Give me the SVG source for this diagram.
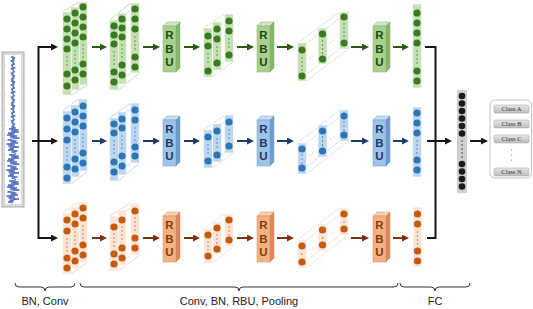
<svg xmlns="http://www.w3.org/2000/svg" width="533" height="309" viewBox="0 0 533 309">
<defs>
<style>
.sg{fill:#c5e0b4;stroke:#fff;stroke-width:.6}
.sb{fill:#bdd7ee;stroke:#fff;stroke-width:.6}
.so{fill:#fce4d6;stroke:#fff;stroke-width:.6}
.cg{fill:#3a7a20}.cb{fill:#2e75b6}.co{fill:#c55a11}.ck{fill:#1a1a1a}
.og{stroke:#9fc48a;stroke-width:.6;fill:none}
.ob{stroke:#93b8dd;stroke-width:.6;fill:none}
.oo{stroke:#edb999;stroke-width:.6;fill:none}
.da{stroke-dasharray:2 1.2}
.ag{stroke:#2e5a17;stroke-width:2;marker-end:url(#mg)}
.ab{stroke:#1f3e66;stroke-width:2;marker-end:url(#mb)}
.ao{stroke:#7a3310;stroke-width:2;marker-end:url(#mo)}
.ak{stroke:#151515;stroke-width:2;marker-end:url(#mk)}
.tk{stroke:#151515;stroke-width:2;fill:none}
.rg .f{fill:#a9d18e;stroke:#86b26b;stroke-width:.5}.rg .t{fill:#d2e8c2;stroke:#86b26b;stroke-width:.5}.rg .s{fill:#86b66a;stroke:#86b26b;stroke-width:.5}.rg text{fill:#1d4a12}
.rb .f{fill:#9dc3e6;stroke:#6f9ccc;stroke-width:.5}.rb .t{fill:#c8def3;stroke:#6f9ccc;stroke-width:.5}.rb .s{fill:#6f9ccc;stroke:#6f9ccc;stroke-width:.5}.rb text{fill:#1f3864}
.ro .f{fill:#f4b183;stroke:#d88a5c;stroke-width:.5}.ro .t{fill:#f9d3b8;stroke:#d88a5c;stroke-width:.5}.ro .s{fill:#d98b5d;stroke:#d88a5c;stroke-width:.5}.ro text{fill:#843c0c}
.rl{font-family:"Liberation Sans",Arial,sans-serif;font-weight:bold;font-size:11.5px;text-anchor:middle}
.lb{font-family:"Liberation Sans",Arial,sans-serif;font-size:11px;fill:#222;text-anchor:middle}
.cl{font-family:"Liberation Serif","Times New Roman",serif;font-size:6.5px;fill:#333;text-anchor:middle}
.btn{fill:url(#gb);stroke:#a0a0a0;stroke-width:.5}
.br{fill:none;stroke:#333;stroke-width:1}
</style>
<linearGradient id="gb" x1="0" y1="0" x2="0" y2="1"><stop offset="0" stop-color="#e6e6e6"/><stop offset="1" stop-color="#bdbdbd"/></linearGradient>
<marker id="mg" viewBox="0 0 7 7" refX="5" refY="3.5" markerWidth="7" markerHeight="7" markerUnits="userSpaceOnUse" orient="auto"><path d="M0,0 L7,3.5 L0,7 z" fill="#2e5a17"/></marker>
<marker id="mb" viewBox="0 0 7 7" refX="5" refY="3.5" markerWidth="7" markerHeight="7" markerUnits="userSpaceOnUse" orient="auto"><path d="M0,0 L7,3.5 L0,7 z" fill="#1f3e66"/></marker>
<marker id="mo" viewBox="0 0 7 7" refX="5" refY="3.5" markerWidth="7" markerHeight="7" markerUnits="userSpaceOnUse" orient="auto"><path d="M0,0 L7,3.5 L0,7 z" fill="#7a3310"/></marker>
<marker id="mk" viewBox="0 0 7 7" refX="5" refY="3.5" markerWidth="7" markerHeight="7" markerUnits="userSpaceOnUse" orient="auto"><path d="M0,0 L7,3.5 L0,7 z" fill="#151515"/></marker>
</defs>
<rect width="533" height="309" fill="#fff"/>

<g id="input">
<rect x="2" y="52" width="22" height="155" fill="#dcdcdc" stroke="#9a9a9a" stroke-width=".8"/>
<rect x="4.5" y="54.5" width="17" height="150" fill="#fff" stroke="#bbb" stroke-width=".4"/>
<path d="M4.5,65h1.5M4.5,80h1.5M4.5,95h1.5M4.5,110h1.5M4.5,125h1.5M4.5,140h1.5M4.5,155h1.5M4.5,170h1.5M4.5,185h1.5M4.5,200h1.5" stroke="#999" stroke-width=".4"/>
<polyline fill="none" stroke="#2448b0" stroke-width=".8" stroke-linejoin="round" points="13.8,56 11.1,57 15.2,58 12,59 14.6,60 10.6,61 14.2,62 12.4,63 15,64 11,65 13.3,66 11.6,67 15.4,68 10.8,69 14,70 12.6,71 14.8,72 10.7,73 13.6,74 11.5,75 15.1,76 12.2,77 14.4,78 11.2,79 13.8,80 11.1,81 15.2,82 12,83 14.6,84 10.6,85 14.2,86 12.4,87 15,88 11,89 13.3,90 11.6,91 15.4,92 10.8,93 14,94 12.6,95 14.8,96 10.7,97 13.6,98 11.5,99 15.1,100 12.2,101 14.4,102 11.2,103 13.8,104 11.1,105 15.2,106 12,107 14.6,108 10.6,109 14.2,110 12.4,111 15,112 11,113 13.3,114 11.6,115 15.4,116 10.8,117 14,118 12.6,119 14.8,120 10.7,121 13.6,122 11.5,123 15.1,124 12.2,125 14.4,126 11.2,127 16,128 9,129 18.5,130 11,131 19,132 8,133 14.5,134 7,135 17,136 10,137 19.5,138 12,139 7.5,140 16.5,141 10.5,142 18,143 6.5,144 15,145 8.5,146 19,147 9.5,148 14,149 8,150 17.5,151 11.5,152 15.5,153 16,154 9,155 18.5,156 11,157 19,158 8,159 14.5,160 7,161 17,162 10,163 19.5,164 12,165 7.5,166 16.5,167 10.5,168 18,169 6.5,170 15,171 8.5,172 19,173 9.5,174 14,175 8,176 17.5,177 11.5,178 15.5,179 16,180 9,181 18.5,182 11,183 19,184 8,185 14.5,186 7,187 17,188 10,189 19.5,190 12,191 7.5,192 16.5,193 10.5,194 18,195 6.5,196 15,197 8.5,198 19,199 9.5,200 14,201 8,202 13,203"/>
</g>

<g id="connectors">
<line class="tk" x1="38.5" y1="46" x2="38.5" y2="239"/>
<line class="ak" x1="38.5" y1="47" x2="56" y2="47"/>
<line class="ak" x1="32" y1="141" x2="56" y2="141"/>
<line class="ak" x1="38.5" y1="238" x2="56" y2="238"/>
<line class="ag" x1="92" y1="47" x2="105" y2="47"/>
<line class="ag" x1="143" y1="47" x2="158" y2="47"/>
<line class="ag" x1="184" y1="47" x2="198" y2="47"/>
<line class="ag" x1="237" y1="47" x2="252" y2="47"/>
<line class="ag" x1="277" y1="47" x2="292" y2="47"/>
<line class="ag" x1="351" y1="47" x2="367" y2="47"/>
<line class="ag" x1="393" y1="47" x2="407" y2="47"/>
<line class="ab" x1="92" y1="141" x2="105" y2="141"/>
<line class="ab" x1="143" y1="141" x2="158" y2="141"/>
<line class="ab" x1="184" y1="141" x2="198" y2="141"/>
<line class="ab" x1="237" y1="141" x2="252" y2="141"/>
<line class="ab" x1="277" y1="141" x2="292" y2="141"/>
<line class="ab" x1="351" y1="141" x2="367" y2="141"/>
<line class="ab" x1="393" y1="141" x2="407" y2="141"/>
<line class="ao" x1="92" y1="238" x2="105" y2="238"/>
<line class="ao" x1="143" y1="238" x2="158" y2="238"/>
<line class="ao" x1="184" y1="238" x2="198" y2="238"/>
<line class="ao" x1="237" y1="238" x2="252" y2="238"/>
<line class="ao" x1="277" y1="238" x2="292" y2="238"/>
<line class="ao" x1="351" y1="238" x2="367" y2="238"/>
<line class="ao" x1="393" y1="238" x2="407" y2="238"/>
<polyline class="tk" points="425,47 435.5,47 435.5,238 427,238"/>
<line class="ak" x1="427" y1="141" x2="450" y2="141"/>
<line class="ak" x1="470" y1="141" x2="486" y2="141"/>
</g>

<!-- TOP ROW (green) -->
<g id="g-conv1">
<path class="og" d="M62.5,12L78.5,2M71.5,12L87.5,2M71.5,95L87.5,85M62.5,95L78.5,85"/>
<rect class="sg" x="78.5" y="2" width="9" height="83"/><rect class="sg" x="70.5" y="7" width="9" height="83"/><rect class="sg" x="62.5" y="12" width="9" height="83"/>
<g class="cg"><circle cx="67" cy="19" r="3.6"/><circle cx="67" cy="29" r="3.6"/><circle cx="67" cy="39" r="3.6"/><circle cx="67" cy="49" r="3.6"/><circle cx="67" cy="57" r=".7"/><circle cx="67" cy="61" r=".7"/><circle cx="67" cy="65" r=".7"/><circle cx="67" cy="74" r="3.6"/><circle cx="67" cy="86" r="3.6"/>
<circle cx="75" cy="13" r="3.6"/><circle cx="75" cy="23" r="3.6"/><circle cx="75" cy="33" r="3.6"/><circle cx="75" cy="43" r="3.6"/><circle cx="75" cy="51" r=".7"/><circle cx="75" cy="55" r=".7"/><circle cx="75" cy="59" r=".7"/><circle cx="75" cy="63" r=".7"/><circle cx="75" cy="70" r="3.6"/><circle cx="75" cy="80" r="3.6"/>
<circle cx="83" cy="7" r="3.6"/><circle cx="83" cy="17" r="3.6"/><circle cx="83" cy="27" r="3.6"/><circle cx="83" cy="37" r="3.6"/><circle cx="83" cy="45" r=".7"/><circle cx="83" cy="49" r=".7"/><circle cx="83" cy="53" r=".7"/><circle cx="83" cy="57" r=".7"/><circle cx="83" cy="64" r="3.6"/><circle cx="83" cy="74" r="3.6"/></g>
</g>
<g id="g-conv2">
<path class="og" d="M109.5,20L130.5,3M118.5,20L139.5,3M118.5,90L139.5,73M109.5,90L130.5,73"/>
<rect class="sg" x="130.5" y="3" width="9" height="70"/><rect class="sg" x="117.5" y="13" width="9" height="71"/><rect class="sg" x="109.5" y="20" width="9" height="70"/>
<g class="cg"><circle cx="114" cy="26" r="3.6"/><circle cx="114" cy="35" r="3.6"/><circle cx="114" cy="44" r="3.6"/><circle cx="114" cy="52" r=".7"/><circle cx="114" cy="56" r=".7"/><circle cx="114" cy="60" r=".7"/><circle cx="114" cy="64" r=".7"/><circle cx="114" cy="72" r="3.6"/><circle cx="114" cy="82" r="3.6"/>
<circle cx="122" cy="19" r="3.6"/><circle cx="122" cy="28" r="3.6"/><circle cx="122" cy="37" r="3.6"/><circle cx="122" cy="45" r=".7"/><circle cx="122" cy="49" r=".7"/><circle cx="122" cy="53" r=".7"/><circle cx="122" cy="57" r=".7"/><circle cx="122" cy="65" r="3.6"/><circle cx="122" cy="75" r="3.6"/>
<circle cx="135" cy="9" r="3.6"/><circle cx="135" cy="19" r="3.6"/><circle cx="135" cy="29" r="3.6"/><circle cx="135" cy="37" r=".7"/><circle cx="135" cy="41" r=".7"/><circle cx="135" cy="45" r=".7"/><circle cx="135" cy="49" r=".7"/><circle cx="135" cy="57" r="3.6"/><circle cx="135" cy="67" r="3.6"/></g>
</g>
<g id="g-rbu1" class="rg"><polygon class="t" points="163,26 167,22 180,22 176,26"/><polygon class="s" points="176,26 180,22 180,68 176,72"/><rect class="f" x="163" y="26" width="13" height="46"/><text class="rl" x="169.5" y="39">R</text><text class="rl" x="169.5" y="52.5">B</text><text class="rl" x="169.5" y="66">U</text></g>
<g id="g-conv3">
<path class="og da" d="M203.5,28L224.5,14M212.5,28L233.5,14M212.5,77L233.5,62M203.5,77L224.5,62"/>
<rect class="sg" x="224.5" y="14" width="9" height="48"/><rect class="sg" x="212.5" y="22" width="9" height="48"/><rect class="sg" x="203.5" y="28" width="9" height="49"/>
<g class="cg"><circle cx="208" cy="36" r="3.6"/><circle cx="208" cy="46" r="3.6"/><circle cx="208" cy="54" r=".7"/><circle cx="208" cy="58" r=".7"/><circle cx="208" cy="62" r=".7"/><circle cx="208" cy="71" r="3.6"/>
<circle cx="217" cy="29" r="3.6"/><circle cx="217" cy="39" r="3.6"/><circle cx="217" cy="47" r=".7"/><circle cx="217" cy="51" r=".7"/><circle cx="217" cy="55" r=".7"/><circle cx="217" cy="63" r="3.6"/>
<circle cx="229" cy="21" r="3.6"/><circle cx="229" cy="31" r="3.6"/><circle cx="229" cy="39" r=".7"/><circle cx="229" cy="43" r=".7"/><circle cx="229" cy="47" r=".7"/><circle cx="229" cy="55" r="3.6"/></g>
</g>
<g id="g-rbu2" class="rg"><polygon class="t" points="257,26 261,22 274,22 270,26"/><polygon class="s" points="270,26 274,22 274,68 270,72"/><rect class="f" x="257" y="26" width="13" height="46"/><text class="rl" x="263.5" y="39">R</text><text class="rl" x="263.5" y="52.5">B</text><text class="rl" x="263.5" y="66">U</text></g>
<g id="g-pool">
<path class="og da" d="M297.5,43L339.5,12M306.5,43L348.5,12M306.5,81L348.5,49M297.5,81L339.5,49"/>
<rect class="sg" x="339.5" y="12" width="9" height="37"/><rect class="sg" x="318" y="28" width="9" height="36"/><rect class="sg" x="297.5" y="43" width="9" height="38"/>
<g class="cg"><circle cx="302" cy="50" r="3.6"/><circle cx="302" cy="58" r=".7"/><circle cx="302" cy="62" r=".7"/><circle cx="302" cy="66" r=".7"/><circle cx="302" cy="70" r=".7"/><circle cx="302" cy="76" r="3.6"/>
<circle cx="322.5" cy="34" r="3.6"/><circle cx="322.5" cy="41" r=".7"/><circle cx="322.5" cy="45" r=".7"/><circle cx="322.5" cy="49" r=".7"/><circle cx="322.5" cy="53" r=".7"/><circle cx="322.5" cy="59" r="3.6"/>
<circle cx="344" cy="17" r="3.6"/><circle cx="344" cy="24" r=".7"/><circle cx="344" cy="28" r=".7"/><circle cx="344" cy="32" r=".7"/><circle cx="344" cy="36" r=".7"/><circle cx="344" cy="43" r="3.6"/></g>
<g fill="#9fc48a"><circle cx="310" cy="58" r=".6"/><circle cx="313" cy="56" r=".6"/><circle cx="331" cy="42" r=".6"/><circle cx="334" cy="40" r=".6"/></g>
</g>
<g id="g-rbu3" class="rg"><polygon class="t" points="373,26 377,22 390,22 386,26"/><polygon class="s" points="386,26 390,22 390,68 386,72"/><rect class="f" x="373" y="26" width="13" height="46"/><text class="rl" x="379.5" y="39">R</text><text class="rl" x="379.5" y="52.5">B</text><text class="rl" x="379.5" y="66">U</text></g>
<g id="g-fc">
<rect class="sg" x="412.5" y="4" width="9" height="84"/>
<g class="cg"><circle cx="417" cy="13" r="3.6"/><circle cx="417" cy="23" r="3.6"/><circle cx="417" cy="33" r="3.6"/><circle cx="417" cy="43" r="3.6"/><circle cx="417" cy="51" r=".7"/><circle cx="417" cy="55" r=".7"/><circle cx="417" cy="59" r=".7"/><circle cx="417" cy="63" r=".7"/><circle cx="417" cy="71" r="3.6"/><circle cx="417" cy="81" r="3.6"/></g>
</g>

<!-- MIDDLE ROW (blue) -->
<g id="b-conv1">
<path class="ob" d="M62.5,111L78.5,99M71.5,111L87.5,99M71.5,184L87.5,171M62.5,184L78.5,171"/>
<rect class="sb" x="78.5" y="99" width="9" height="72"/><rect class="sb" x="70.5" y="105" width="9" height="72"/><rect class="sb" x="62.5" y="111" width="9" height="73"/>
<g class="cb"><circle cx="67" cy="118" r="3.6"/><circle cx="67" cy="129" r="3.6"/><circle cx="67" cy="140" r="3.6"/><circle cx="67" cy="148" r=".7"/><circle cx="67" cy="152" r=".7"/><circle cx="67" cy="156" r=".7"/><circle cx="67" cy="160" r=".7"/><circle cx="67" cy="167" r="3.6"/><circle cx="67" cy="178" r="3.6"/>
<circle cx="75" cy="112" r="3.6"/><circle cx="75" cy="122" r="3.6"/><circle cx="75" cy="132" r="3.6"/><circle cx="75" cy="140" r=".7"/><circle cx="75" cy="144" r=".7"/><circle cx="75" cy="148" r=".7"/><circle cx="75" cy="152" r=".7"/><circle cx="75" cy="159" r="3.6"/><circle cx="75" cy="169" r="3.6"/>
<circle cx="83" cy="106" r="3.6"/><circle cx="83" cy="116" r="3.6"/><circle cx="83" cy="126" r="3.6"/><circle cx="83" cy="134" r=".7"/><circle cx="83" cy="138" r=".7"/><circle cx="83" cy="142" r=".7"/><circle cx="83" cy="146" r=".7"/><circle cx="83" cy="153" r="3.6"/><circle cx="83" cy="163" r="3.6"/></g>
</g>
<g id="b-conv2">
<path class="ob" d="M109.5,118L130.5,103M118.5,118L139.5,103M118.5,181L139.5,163M109.5,181L130.5,163"/>
<rect class="sb" x="130.5" y="103" width="9" height="60"/><rect class="sb" x="117.5" y="112" width="9" height="63"/><rect class="sb" x="109.5" y="118" width="9" height="63"/>
<g class="cb"><circle cx="114" cy="124" r="3.6"/><circle cx="114" cy="133" r="3.6"/><circle cx="114" cy="141" r=".7"/><circle cx="114" cy="145" r=".7"/><circle cx="114" cy="149" r=".7"/><circle cx="114" cy="153" r=".7"/><circle cx="114" cy="162" r="3.6"/><circle cx="114" cy="172" r="3.6"/>
<circle cx="122" cy="119" r="3.6"/><circle cx="122" cy="128" r="3.6"/><circle cx="122" cy="136" r=".7"/><circle cx="122" cy="140" r=".7"/><circle cx="122" cy="144" r=".7"/><circle cx="122" cy="148" r=".7"/><circle cx="122" cy="156" r="3.6"/><circle cx="122" cy="166" r="3.6"/>
<circle cx="135" cy="110" r="3.6"/><circle cx="135" cy="120" r="3.6"/><circle cx="135" cy="128" r=".7"/><circle cx="135" cy="132" r=".7"/><circle cx="135" cy="136" r=".7"/><circle cx="135" cy="140" r=".7"/><circle cx="135" cy="147" r="3.6"/><circle cx="135" cy="156" r="3.6"/></g>
</g>
<g id="b-rbu1" class="rb"><polygon class="t" points="163,120 167,116 180,116 176,120"/><polygon class="s" points="176,120 180,116 180,162 176,166"/><rect class="f" x="163" y="120" width="13" height="46"/><text class="rl" x="169.5" y="133">R</text><text class="rl" x="169.5" y="146.5">B</text><text class="rl" x="169.5" y="160">U</text></g>
<g id="b-conv3">
<path class="ob da" d="M203.5,130L224.5,115M212.5,130L233.5,115M212.5,168L233.5,153M203.5,168L224.5,153"/>
<rect class="sb" x="224.5" y="115" width="9" height="38"/><rect class="sb" x="212.5" y="124" width="9" height="38"/><rect class="sb" x="203.5" y="130" width="9" height="38"/>
<g class="cb"><circle cx="208" cy="137" r="3.6"/><circle cx="208" cy="145" r=".7"/><circle cx="208" cy="149" r=".7"/><circle cx="208" cy="153" r=".7"/><circle cx="208" cy="161" r="3.6"/>
<circle cx="217" cy="131" r="3.6"/><circle cx="217" cy="139" r=".7"/><circle cx="217" cy="143" r=".7"/><circle cx="217" cy="147" r=".7"/><circle cx="217" cy="155" r="3.6"/>
<circle cx="229" cy="122" r="3.6"/><circle cx="229" cy="130" r=".7"/><circle cx="229" cy="134" r=".7"/><circle cx="229" cy="138" r=".7"/><circle cx="229" cy="146" r="3.6"/></g>
</g>
<g id="b-rbu2" class="rb"><polygon class="t" points="257,120 261,116 274,116 270,120"/><polygon class="s" points="270,120 274,116 274,162 270,166"/><rect class="f" x="257" y="120" width="13" height="46"/><text class="rl" x="263.5" y="133">R</text><text class="rl" x="263.5" y="146.5">B</text><text class="rl" x="263.5" y="160">U</text></g>
<g id="b-pool">
<path class="ob da" d="M297.5,143L339.5,110M306.5,143L348.5,110M306.5,174L348.5,141M297.5,174L339.5,141"/>
<rect class="sb" x="339.5" y="110" width="9" height="31"/><rect class="sb" x="318" y="125" width="9" height="32"/><rect class="sb" x="297.5" y="143" width="9" height="31"/>
<g class="cb"><circle cx="302" cy="149" r="3.6"/><circle cx="302" cy="155" r=".7"/><circle cx="302" cy="159" r=".7"/><circle cx="302" cy="163" r=".7"/><circle cx="302" cy="168" r="3.6"/>
<circle cx="322.5" cy="131" r="3.6"/><circle cx="322.5" cy="137" r=".7"/><circle cx="322.5" cy="141" r=".7"/><circle cx="322.5" cy="145" r=".7"/><circle cx="322.5" cy="151" r="3.6"/>
<circle cx="344" cy="116" r="3.6"/><circle cx="344" cy="122" r=".7"/><circle cx="344" cy="126" r=".7"/><circle cx="344" cy="130" r=".7"/><circle cx="344" cy="135" r="3.6"/></g>
<g fill="#93b8dd"><circle cx="310" cy="155" r=".6"/><circle cx="313" cy="153" r=".6"/><circle cx="331" cy="139" r=".6"/><circle cx="334" cy="137" r=".6"/></g>
</g>
<g id="b-rbu3" class="rb"><polygon class="t" points="373,120 377,116 390,116 386,120"/><polygon class="s" points="386,120 390,116 390,162 386,166"/><rect class="f" x="373" y="120" width="13" height="46"/><text class="rl" x="379.5" y="133">R</text><text class="rl" x="379.5" y="146.5">B</text><text class="rl" x="379.5" y="160">U</text></g>
<g id="b-fc">
<rect class="sb" x="412.5" y="107" width="9" height="70"/>
<g class="cb"><circle cx="417" cy="113" r="3.6"/><circle cx="417" cy="123" r="3.6"/><circle cx="417" cy="133" r="3.6"/><circle cx="417" cy="141" r=".7"/><circle cx="417" cy="145" r=".7"/><circle cx="417" cy="149" r=".7"/><circle cx="417" cy="153" r=".7"/><circle cx="417" cy="160" r="3.6"/><circle cx="417" cy="170" r="3.6"/></g>
</g>

<!-- BOTTOM ROW (orange) -->
<g id="o-conv1">
<path class="oo" d="M62.5,213L78.5,202M71.5,213L87.5,202M71.5,274L87.5,262M62.5,274L78.5,262"/>
<rect class="so" x="78.5" y="202" width="9" height="60"/><rect class="so" x="70.5" y="207" width="9" height="61"/><rect class="so" x="62.5" y="213" width="9" height="61"/>
<g class="co"><circle cx="67" cy="220" r="3.6"/><circle cx="67" cy="231" r="3.6"/><circle cx="67" cy="239" r=".7"/><circle cx="67" cy="243" r=".7"/><circle cx="67" cy="247" r=".7"/><circle cx="67" cy="251" r=".7"/><circle cx="67" cy="258" r="3.6"/><circle cx="67" cy="268" r="3.6"/>
<circle cx="75" cy="214" r="3.6"/><circle cx="75" cy="224" r="3.6"/><circle cx="75" cy="232" r=".7"/><circle cx="75" cy="236" r=".7"/><circle cx="75" cy="240" r=".7"/><circle cx="75" cy="244" r=".7"/><circle cx="75" cy="251" r="3.6"/><circle cx="75" cy="261" r="3.6"/>
<circle cx="83" cy="208" r="3.6"/><circle cx="83" cy="218" r="3.6"/><circle cx="83" cy="226" r=".7"/><circle cx="83" cy="230" r=".7"/><circle cx="83" cy="234" r=".7"/><circle cx="83" cy="238" r=".7"/><circle cx="83" cy="245" r="3.6"/><circle cx="83" cy="255" r="3.6"/></g>
</g>
<g id="o-conv2">
<path class="oo" d="M109.5,216L130.5,203M118.5,216L139.5,203M118.5,271L139.5,255M109.5,271L130.5,255"/>
<rect class="so" x="130.5" y="203" width="9" height="52"/><rect class="so" x="117.5" y="210" width="9" height="55"/><rect class="so" x="109.5" y="216" width="9" height="55"/>
<g class="co"><circle cx="114" cy="227" r="3.6"/><circle cx="114" cy="234" r=".7"/><circle cx="114" cy="238" r=".7"/><circle cx="114" cy="242" r=".7"/><circle cx="114" cy="246" r=".7"/><circle cx="114" cy="254" r="3.6"/><circle cx="114" cy="264" r="3.6"/>
<circle cx="122" cy="220" r="3.6"/><circle cx="122" cy="227" r=".7"/><circle cx="122" cy="231" r=".7"/><circle cx="122" cy="235" r=".7"/><circle cx="122" cy="239" r=".7"/><circle cx="122" cy="248" r="3.6"/><circle cx="122" cy="258" r="3.6"/>
<circle cx="135" cy="211" r="3.6"/><circle cx="135" cy="218" r=".7"/><circle cx="135" cy="222" r=".7"/><circle cx="135" cy="226" r=".7"/><circle cx="135" cy="230" r=".7"/><circle cx="135" cy="238" r="3.6"/><circle cx="135" cy="248" r="3.6"/></g>
</g>
<g id="o-rbu1" class="ro"><polygon class="t" points="163,216 167,212 180,212 176,216"/><polygon class="s" points="176,216 180,212 180,258 176,262"/><rect class="f" x="163" y="216" width="13" height="46"/><text class="rl" x="169.5" y="229">R</text><text class="rl" x="169.5" y="242.5">B</text><text class="rl" x="169.5" y="256">U</text></g>
<g id="o-conv3">
<path class="oo da" d="M203.5,229L224.5,214M212.5,229L233.5,214M212.5,263L233.5,246M203.5,263L224.5,246"/>
<rect class="so" x="224.5" y="214" width="9" height="32"/><rect class="so" x="212.5" y="222" width="9" height="32"/><rect class="so" x="203.5" y="229" width="9" height="34"/>
<g class="co"><circle cx="208" cy="235" r="3.6"/><circle cx="208" cy="242" r=".7"/><circle cx="208" cy="246" r=".7"/><circle cx="208" cy="250" r=".7"/><circle cx="208" cy="256" r="3.6"/>
<circle cx="217" cy="228" r="3.6"/><circle cx="217" cy="235" r=".7"/><circle cx="217" cy="239" r=".7"/><circle cx="217" cy="243" r=".7"/><circle cx="217" cy="249" r="3.6"/>
<circle cx="229" cy="220" r="3.6"/><circle cx="229" cy="227" r=".7"/><circle cx="229" cy="231" r=".7"/><circle cx="229" cy="235" r=".7"/><circle cx="229" cy="240" r="3.6"/></g>
</g>
<g id="o-rbu2" class="ro"><polygon class="t" points="257,216 261,212 274,212 270,216"/><polygon class="s" points="270,216 274,212 274,258 270,262"/><rect class="f" x="257" y="216" width="13" height="46"/><text class="rl" x="263.5" y="229">R</text><text class="rl" x="263.5" y="242.5">B</text><text class="rl" x="263.5" y="256">U</text></g>
<g id="o-pool">
<path class="oo da" d="M297.5,240L339.5,208M306.5,240L348.5,208M306.5,268L348.5,235M297.5,268L339.5,235"/>
<rect class="so" x="339.5" y="208" width="9" height="27"/><rect class="so" x="318" y="224" width="9" height="27"/><rect class="so" x="297.5" y="240" width="9" height="28"/>
<g class="co"><circle cx="302" cy="246" r="3.6"/><circle cx="302" cy="254" r=".7"/><circle cx="302" cy="262" r="3.6"/>
<circle cx="322.5" cy="230" r="3.6"/><circle cx="322.5" cy="238" r=".7"/><circle cx="322.5" cy="245" r="3.6"/>
<circle cx="344" cy="214" r="3.6"/><circle cx="344" cy="222" r=".7"/><circle cx="344" cy="229" r="3.6"/></g>
<g fill="#edb999"><circle cx="310" cy="250" r=".6"/><circle cx="313" cy="248" r=".6"/><circle cx="331" cy="234" r=".6"/><circle cx="334" cy="232" r=".6"/></g>
</g>
<g id="o-rbu3" class="ro"><polygon class="t" points="373,216 377,212 390,212 386,216"/><polygon class="s" points="386,216 390,212 390,258 386,262"/><rect class="f" x="373" y="216" width="13" height="46"/><text class="rl" x="379.5" y="229">R</text><text class="rl" x="379.5" y="242.5">B</text><text class="rl" x="379.5" y="256">U</text></g>
<g id="o-fc">
<rect class="so" x="413" y="207" width="9" height="60"/>
<g class="co"><circle cx="417.5" cy="214" r="3.6"/><circle cx="417.5" cy="224" r="3.6"/><circle cx="417.5" cy="232" r=".7"/><circle cx="417.5" cy="236" r=".7"/><circle cx="417.5" cy="240" r=".7"/><circle cx="417.5" cy="244" r=".7"/><circle cx="417.5" cy="251" r="3.6"/><circle cx="417.5" cy="261" r="3.6"/></g>
</g>

<g id="merged-fc">
<rect x="457" y="90" width="10" height="103" fill="#cfcfcf"/>
<g class="ck"><circle cx="462" cy="96" r="3.3"/><circle cx="462" cy="103.5" r="3.3"/><circle cx="462" cy="111" r="3.3"/><circle cx="462" cy="118.5" r="3.3"/><circle cx="462" cy="126" r="3.3"/><circle cx="462" cy="133.5" r="3.3"/><circle cx="462" cy="141" r=".7"/><circle cx="462" cy="145" r=".7"/><circle cx="462" cy="149" r=".7"/><circle cx="462" cy="153" r=".7"/><circle cx="462" cy="157" r=".7"/><circle cx="462" cy="164" r="3.3"/><circle cx="462" cy="171.5" r="3.3"/><circle cx="462" cy="179" r="3.3"/><circle cx="462" cy="186.5" r="3.3"/></g>
</g>

<g id="classes">
<rect x="490" y="100" width="41.5" height="78" rx="5" fill="#fff" stroke="#b5b5b5" stroke-width=".8"/>
<rect class="btn" x="494" y="105" width="35" height="8" rx="1.5"/><text class="cl" x="511.5" y="111.3">Class A</text>
<rect class="btn" x="494" y="120" width="35" height="8" rx="1.5"/><text class="cl" x="511.5" y="126.3">Class B</text>
<rect class="btn" x="494" y="135" width="35" height="8" rx="1.5"/><text class="cl" x="511.5" y="141.3">Class C</text>
<g fill="#777"><circle cx="511.5" cy="150" r=".6"/><circle cx="511.5" cy="155" r=".6"/><circle cx="511.5" cy="160" r=".6"/></g>
<rect class="btn" x="494" y="168" width="35" height="8" rx="1.5"/><text class="cl" x="511.5" y="174.3">Class N</text>
</g>

<g id="braces">
<path class="br" d="M15,283Q15,287 19,287H41Q45,287 45,291Q45,287 49,287H71Q75,287 75,283"/>
<path class="br" d="M80,283Q80,287 84,287H235Q239,287 239,291Q239,287 243,287H394Q398,287 398,283"/>
<path class="br" d="M400,283Q400,287 404,287H431Q435,287 435,291Q435,287 439,287H466Q470,287 470,283"/>
<text class="lb" x="45" y="305">BN, Conv</text>
<text class="lb" x="239" y="305">Conv, BN, RBU, Pooling</text>
<text class="lb" x="435" y="305">FC</text>
</g>
</svg>
